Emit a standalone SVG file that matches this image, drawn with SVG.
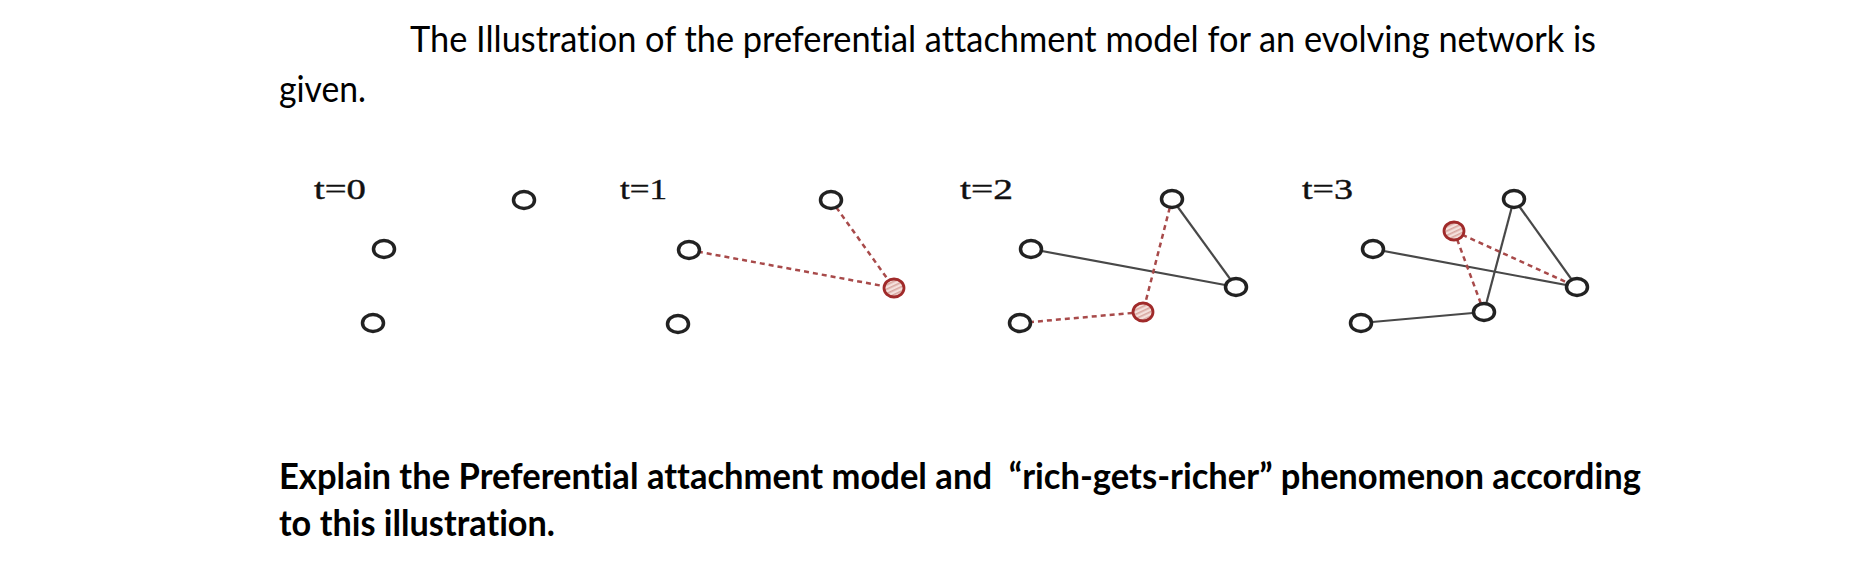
<svg xmlns="http://www.w3.org/2000/svg" width="1849" height="566" viewBox="0 0 1849 566">
<style>
.txt{font-family:Lato,"Open Sans","Liberation Sans",sans-serif;font-size:37px;fill:#000;white-space:pre;font-variant-ligatures:none}
.bold{font-weight:bold}
.lbl{font-family:"Liberation Serif","DejaVu Serif",serif;font-size:29px;fill:#111;stroke:#111;stroke-width:0.4}
.node{fill:#fff;stroke:#222;stroke-width:3.5}
.new{fill:url(#hatch);stroke:#a02a2a;stroke-width:2.8}
.solid{stroke:#484848;stroke-width:2.2;fill:none}
.dash{stroke:#a84a4a;stroke-width:2.5;stroke-dasharray:5 4;fill:none}
</style>
<defs>
<pattern id="hatch" patternUnits="userSpaceOnUse" width="4" height="4" patternTransform="rotate(-25)">
<rect width="4" height="4" fill="#f4e0dc"/>
<rect width="4" height="1.6" fill="#d8a7a0"/>
</pattern>
</defs>
<rect width="1849" height="566" fill="#fff"/>
<g id="intro-text">
<text class="txt" x="410" y="52" textLength="1186" lengthAdjust="spacingAndGlyphs">The Illustration of the preferential attachment model for an evolving network is</text>
<text class="txt" x="279" y="102" textLength="87" lengthAdjust="spacingAndGlyphs">given.</text>
</g>
<g id="labels">
<text class="lbl" x="314" y="199" textLength="52" lengthAdjust="spacingAndGlyphs">t=0</text>
<text class="lbl" x="620" y="199" textLength="47" lengthAdjust="spacingAndGlyphs">t=1</text>
<text class="lbl" x="960" y="199" textLength="53" lengthAdjust="spacingAndGlyphs">t=2</text>
<text class="lbl" x="1302" y="199" textLength="51" lengthAdjust="spacingAndGlyphs">t=3</text>
</g>
<g id="connectors">
<line class="dash" x1="689" y1="250" x2="894" y2="288"/>
<line class="dash" x1="831" y1="200" x2="894" y2="288"/>
<line class="solid" x1="1172" y1="199" x2="1236" y2="287"/>
<line class="solid" x1="1031" y1="249" x2="1236" y2="287"/>
<line class="dash" x1="1172" y1="199" x2="1143" y2="312"/>
<line class="dash" x1="1020" y1="323" x2="1143" y2="312"/>
<line class="solid" x1="1373" y1="249" x2="1577" y2="287"/>
<line class="solid" x1="1514" y1="199" x2="1577" y2="287"/>
<line class="solid" x1="1514" y1="199" x2="1484" y2="312"/>
<line class="solid" x1="1361" y1="323" x2="1484" y2="312"/>
<line class="dash" x1="1454" y1="231" x2="1577" y2="287"/>
<line class="dash" x1="1454" y1="231" x2="1484" y2="312"/>
</g>
<g id="t0-nodes">
<ellipse id="t0-a" class="node" cx="524" cy="200" rx="10.5" ry="8.5"/>
<ellipse id="t0-b" class="node" cx="384" cy="249" rx="10.5" ry="8.5"/>
<ellipse id="t0-c" class="node" cx="373" cy="323" rx="10.5" ry="8.5"/>
</g>
<g id="t1-nodes">
<ellipse id="t1-a" class="node" cx="831" cy="200" rx="10.5" ry="8.5"/>
<ellipse id="t1-b" class="node" cx="689" cy="250" rx="10.5" ry="8.5"/>
<ellipse id="t1-c" class="node" cx="678" cy="324" rx="10.5" ry="8.5"/>
<ellipse id="t1-new" class="new" cx="894" cy="288" rx="10" ry="9"/>
</g>
<g id="t2-nodes">
<ellipse id="t2-a" class="node" cx="1172" cy="199" rx="10.5" ry="8.5"/>
<ellipse id="t2-b" class="node" cx="1031" cy="249" rx="10.5" ry="8.5"/>
<ellipse id="t2-c" class="node" cx="1236" cy="287" rx="10.5" ry="8.5"/>
<ellipse id="t2-d" class="node" cx="1020" cy="323" rx="10.5" ry="8.5"/>
<ellipse id="t2-new" class="new" cx="1143" cy="312" rx="10" ry="9"/>
</g>
<g id="t3-nodes">
<ellipse id="t3-a" class="node" cx="1514" cy="199" rx="10.5" ry="8.5"/>
<ellipse id="t3-b" class="node" cx="1373" cy="249" rx="10.5" ry="8.5"/>
<ellipse id="t3-c" class="node" cx="1577" cy="287" rx="10.5" ry="8.5"/>
<ellipse id="t3-d" class="node" cx="1484" cy="312" rx="10.5" ry="8.5"/>
<ellipse id="t3-e" class="node" cx="1361" cy="323" rx="10.5" ry="8.5"/>
<ellipse id="t3-new" class="new" cx="1454" cy="231" rx="10" ry="9"/>
</g>
<g id="question-text">
<text class="txt bold" x="279" y="489" textLength="1362" lengthAdjust="spacingAndGlyphs">Explain the Preferential attachment model and  “rich-gets-richer” phenomenon according</text>
<text class="txt bold" x="279" y="536" textLength="276" lengthAdjust="spacingAndGlyphs">to this illustration.</text>
</g>
</svg>
